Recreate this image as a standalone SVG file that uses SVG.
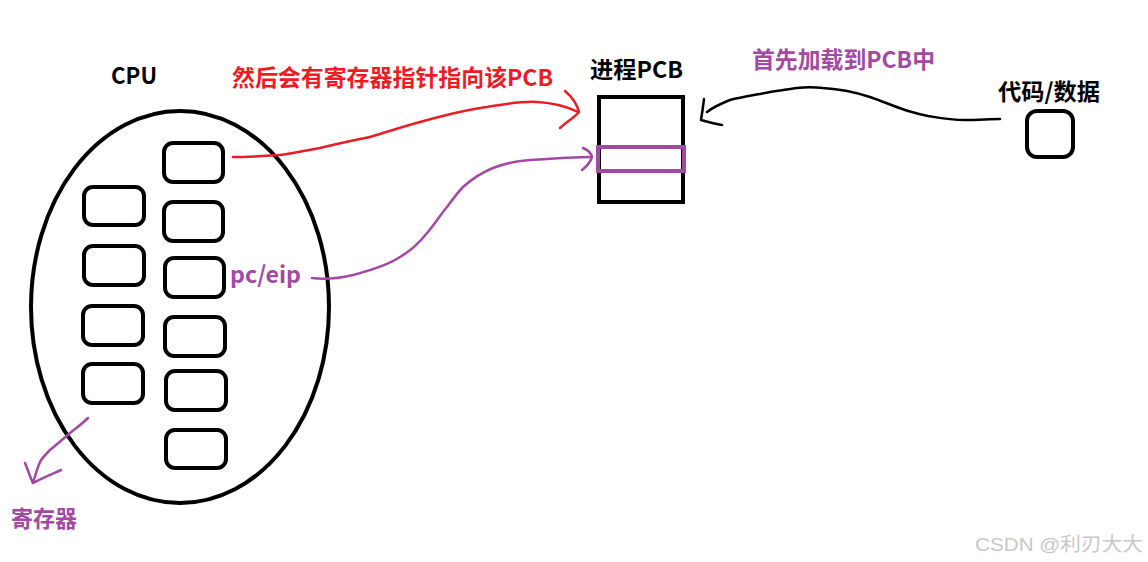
<svg xmlns="http://www.w3.org/2000/svg" width="1148" height="562" viewBox="0 0 1148 562">
<style>
.t{font-family:"Noto Sans CJK SC","Liberation Sans",sans-serif;font-weight:bold;font-size:23px}
.blk{fill:#000}
.red{fill:#ed1c24}
.pur{fill:#a349a4}
.reg{fill:none;stroke:#000;stroke-width:4}
.ln{fill:none;stroke-width:2.5;stroke-linecap:round;stroke-linejoin:round}
</style>
<rect width="1148" height="562" fill="#fff"/>
<g id="cpu">
<ellipse cx="180" cy="307" rx="149" ry="196" fill="none" stroke="#000" stroke-width="4"/>
<text class="t blk" x="111" y="84" textLength="46" lengthAdjust="spacingAndGlyphs">CPU</text>
</g>
<g id="registers">
<rect class="reg" x="84" y="187" width="60" height="38" rx="9"/>
<rect class="reg" x="84" y="246" width="60" height="39" rx="9"/>
<rect class="reg" x="83" y="306" width="60" height="39" rx="9"/>
<rect class="reg" x="83" y="364" width="60" height="39" rx="9"/>
<rect class="reg" x="164" y="143" width="59" height="39" rx="9"/>
<rect class="reg" x="164" y="202" width="59" height="39" rx="9"/>
<rect class="reg" x="165" y="258" width="59" height="39" rx="9"/>
<rect class="reg" x="165" y="317" width="60" height="39" rx="9"/>
<rect class="reg" x="166" y="371" width="60" height="39" rx="9"/>
<rect class="reg" x="166" y="430" width="60" height="38" rx="9"/>
</g>
<g id="pcb">
<text class="t blk" x="590" y="78" textLength="93" lengthAdjust="spacingAndGlyphs">进程PCB</text>
<rect x="599" y="97" width="84" height="105" fill="none" stroke="#000" stroke-width="4"/>
<rect x="598" y="147" width="86" height="24" fill="none" stroke="#a349a4" stroke-width="4"/>
</g>
<g id="code">
<text class="t blk" x="998" y="100" textLength="102" lengthAdjust="spacingAndGlyphs">代码/数据</text>
<rect x="1027" y="111" width="46" height="46" rx="10" fill="none" stroke="#000" stroke-width="4"/>
</g>
<g id="labels">
<text class="t red" x="232" y="86" textLength="321" lengthAdjust="spacingAndGlyphs">然后会有寄存器指针指向该PCB</text>
<text class="t pur" x="752" y="68" textLength="183" lengthAdjust="spacingAndGlyphs">首先加载到PCB中</text>
<text class="t pur" x="230" y="283" textLength="71" lengthAdjust="spacingAndGlyphs">pc/eip</text>
<text class="t pur" x="11" y="527" textLength="66" lengthAdjust="spacingAndGlyphs">寄存器</text>
<text x="975" y="551" font-family="Liberation Sans,'Noto Sans CJK SC',sans-serif" font-size="19" fill="#c8c8c8" textLength="168" lengthAdjust="spacingAndGlyphs">CSDN @利刃大大</text>
</g>
<g id="connectors">
<path class="ln" stroke="#ed1c24" d="M233,157 C250,157 265,156 280,155 C295,153 308,150 320,148 C340,143 355,140 370,137 C390,131 405,126 420,122 C445,115 465,110 487,107 C505,104 520,101 537,102 C555,103 568,107 578,112"/>
<path class="ln" stroke="#ed1c24" d="M565,91 C572,97 577,104 579,112 C574,118 566,122 560,128"/>
<path class="ln" stroke="#a349a4" d="M312,278 C325,280 340,278 353,275 C372,270 388,265 400,257 C412,250 420,242 427,233 C435,224 440,215 447,207 C453,199 458,192 463,187 C473,178 483,172 493,168 C505,163 518,161 530,160 C550,159 570,157 590,157"/>
<path class="ln" stroke="#a349a4" d="M583,148 C588,150 591,153 592,157 C590,163 586,167 582,170"/>
<path class="ln" stroke="#000" d="M1000,119 C990,119 978,120 965,120 C950,120 940,118 928,116 C918,114 912,112 905,110 C893,106 882,101 870,97 C855,92 838,89 823,88 C815,87 805,87 797,88 C788,89 780,91 770,92 C755,95 742,97 730,100 C720,104 712,108 707,112"/>
<path class="ln" stroke="#000" d="M704,99 C703,107 702,114 701,120 C708,122 715,124 722,125"/>
<path class="ln" stroke="#a349a4" d="M88,418 C82,424 76,428 70,433 C62,440 56,445 50,450 C45,455 42,458 40,462 C37,469 35,476 33,483"/>
<path class="ln" stroke="#a349a4" d="M25,463 C28,470 30,477 33,483 C42,478 52,474 61,470"/>
</g>
</svg>
